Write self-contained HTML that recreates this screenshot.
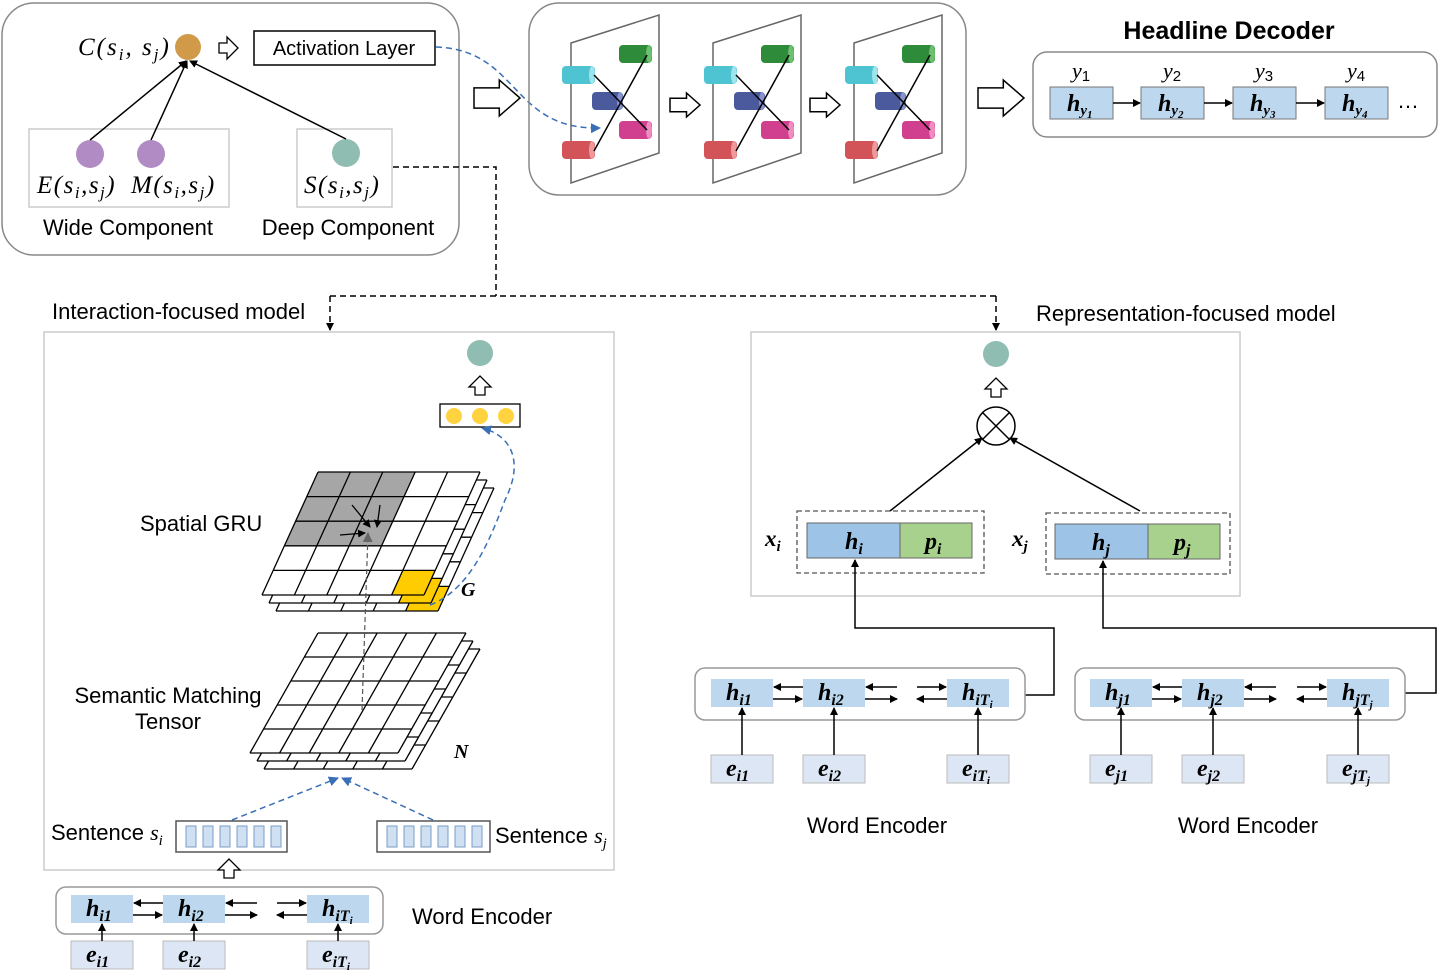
<!DOCTYPE html>
<html><head><meta charset="utf-8"><style>
html,body{margin:0;padding:0;background:#fff}
svg{display:block}
.s{font-family:"Liberation Sans",sans-serif}
.m{font-family:"Liberation Serif",serif;font-style:italic}
</style></head><body>
<svg id="g" width="1440" height="975" viewBox="0 0 1440 975" xmlns="http://www.w3.org/2000/svg">
<defs>
<marker id="a" markerWidth="8" markerHeight="8" refX="7" refY="4" orient="auto" markerUnits="userSpaceOnUse"><path d="M0,0 L8,4 L0,8 z" fill="#000"/></marker>
<marker id="ab" markerWidth="10" markerHeight="10" refX="9" refY="5" orient="auto" markerUnits="userSpaceOnUse"><path d="M0,0 L10,5 L0,10 z" fill="#3a6fb5"/></marker>
<marker id="ag" markerWidth="10" markerHeight="10" refX="9" refY="5" orient="auto" markerUnits="userSpaceOnUse"><path d="M0,0 L10,5 L0,10 z" fill="#666"/></marker>
</defs>

<rect x="2" y="3" width="457" height="252" rx="32" fill="none" stroke="#888" stroke-width="1.5"/>
<text x="78" y="55" class="m" font-size="25" letter-spacing="2">C(s<tspan font-size="17" dy="5">i</tspan><tspan dy="-5">, s</tspan><tspan font-size="17" dy="5">j</tspan><tspan dy="-5">)</tspan></text>
<circle cx="188" cy="47" r="13" fill="#d09a48"/>
<path d="M219,43 h8 v-6 l11,11 l-11,11 v-6 h-8 z" fill="#fff" stroke="#000" stroke-width="1.3"/>
<rect x="254" y="31" width="181" height="34" fill="#fff" stroke="#000" stroke-width="1.5"/>
<text x="344" y="55" class="s" font-size="20" text-anchor="middle">Activation Layer</text>
<rect x="29" y="129" width="200" height="78" fill="none" stroke="#ccc" stroke-width="1.5"/>
<rect x="297" y="129" width="95" height="78" fill="none" stroke="#ccc" stroke-width="1.5"/>
<circle cx="90" cy="154" r="14" fill="#b08bc4"/>
<circle cx="151" cy="154" r="14" fill="#b08bc4"/>
<circle cx="346" cy="153" r="14" fill="#8fbdb2"/>
<line x1="90" y1="140" x2="186" y2="61" stroke="#000" stroke-width="1.5" marker-end="url(#a)"/>
<line x1="151" y1="140" x2="187" y2="61" stroke="#000" stroke-width="1.5" marker-end="url(#a)"/>
<line x1="346" y1="139" x2="190" y2="61" stroke="#000" stroke-width="1.5" marker-end="url(#a)"/>
<text x="37" y="193" class="m" font-size="25" letter-spacing="1.5">E(s<tspan font-size="17" dy="5">i</tspan><tspan dy="-5">,s</tspan><tspan font-size="17" dy="5">j</tspan><tspan dy="-5">)</tspan></text>
<text x="131" y="193" class="m" font-size="25" letter-spacing="1.5">M(s<tspan font-size="17" dy="5">i</tspan><tspan dy="-5">,s</tspan><tspan font-size="17" dy="5">j</tspan><tspan dy="-5">)</tspan></text>
<text x="304" y="193" class="m" font-size="25" letter-spacing="1.5">S(s<tspan font-size="17" dy="5">i</tspan><tspan dy="-5">,s</tspan><tspan font-size="17" dy="5">j</tspan><tspan dy="-5">)</tspan></text>
<text x="128" y="235" class="s" font-size="22" text-anchor="middle">Wide Component</text>
<text x="348" y="235" class="s" font-size="22" text-anchor="middle">Deep Component</text>

<path d="M436,47 C520,50 510,130 600,128" fill="none" stroke="#3a6fb5" stroke-width="1.5" stroke-dasharray="6,4" marker-end="url(#ab)"/>
<path d="M393,167 H496 V296 M330,296 H996" fill="none" stroke="#000" stroke-width="1.5" stroke-dasharray="6,4"/>
<line x1="330" y1="296" x2="330" y2="330" stroke="#000" stroke-width="1.5" stroke-dasharray="6,4" marker-end="url(#a)"/>
<line x1="996" y1="296" x2="996" y2="330" stroke="#000" stroke-width="1.5" stroke-dasharray="6,4" marker-end="url(#a)"/>

<g id="har" fill="#fff" stroke="#000" stroke-width="1.5"></g>

<rect x="529" y="3" width="437" height="192" rx="30" fill="none" stroke="#888" stroke-width="1.5"/>
<g id="panels"></g>

<text x="1229" y="39" class="s" font-size="25" font-weight="bold" text-anchor="middle">Headline Decoder</text>
<rect x="1033" y="52" width="404" height="85" rx="14" fill="none" stroke="#888" stroke-width="1.5"/>
<g id="dec"></g>
<text x="1408" y="108" class="s" font-size="22" text-anchor="middle">…</text>

<text x="52" y="319" class="s" font-size="22">Interaction-focused model</text>
<rect x="44" y="332" width="570" height="538" fill="none" stroke="#ccc" stroke-width="1.5"/>
<circle cx="480" cy="353" r="13" fill="#8fbdb2"/>
<path d="M475,395 v-8 h-6 l11,-11 l11,11 h-6 v8 z" fill="#fff" stroke="#000" stroke-width="1.3"/>
<rect x="440" y="404" width="80" height="23" fill="#fff" stroke="#000" stroke-width="1.3"/>
<circle cx="454" cy="416" r="8" fill="#ffd23f"/><circle cx="480" cy="416" r="8" fill="#ffd23f"/><circle cx="506" cy="416" r="8" fill="#ffd23f"/>
<text x="140" y="531" class="s" font-size="22">Spatial GRU</text>
<text x="168" y="703" class="s" font-size="22" text-anchor="middle">Semantic Matching</text>
<text x="168" y="729" class="s" font-size="22" text-anchor="middle">Tensor</text>
<g id="grids"></g>
<text x="461" y="596" class="m" font-size="20" font-weight="bold">G</text>
<text x="454" y="758" class="m" font-size="20" font-weight="bold">N</text>
<path d="M430,605 C470,590 490,540 505,500 C525,460 510,435 482,428" fill="none" stroke="#3a6fb5" stroke-width="1.5" stroke-dasharray="6,4" marker-end="url(#ab)"/>

<text x="51" y="840" class="s" font-size="22">Sentence <tspan class="m">s</tspan><tspan class="m" font-size="15" dy="5">i</tspan></text>
<rect x="176" y="821" width="111" height="31" fill="#fff" stroke="#555" stroke-width="1.5"/>
<text x="495" y="843" class="s" font-size="22">Sentence <tspan class="m">s</tspan><tspan class="m" font-size="15" dy="5">j</tspan></text>
<rect x="377" y="821" width="113" height="31" fill="#fff" stroke="#555" stroke-width="1.5"/>
<g id="sent"></g>
<line x1="232" y1="820" x2="338" y2="778" stroke="#3a6fb5" stroke-width="1.5" stroke-dasharray="6,4" marker-end="url(#ab)"/>
<line x1="433" y1="820" x2="342" y2="778" stroke="#3a6fb5" stroke-width="1.5" stroke-dasharray="6,4" marker-end="url(#ab)"/>
<path d="M224,878 v-8 h-6 l11,-11 l11,11 h-6 v8 z" fill="#fff" stroke="#000" stroke-width="1.3"/>
<text x="412" y="924" class="s" font-size="22">Word Encoder</text>

<text x="1036" y="321" class="s" font-size="22">Representation-focused model</text>
<rect x="751" y="332" width="489" height="264" fill="none" stroke="#ccc" stroke-width="1.5"/>
<circle cx="996" cy="354" r="13" fill="#8fbdb2"/>
<path d="M991,397 v-8 h-6 l11,-11 l11,11 h-6 v8 z" fill="#fff" stroke="#000" stroke-width="1.3"/>
<circle cx="996" cy="426" r="19" fill="#fff" stroke="#000" stroke-width="1.5"/>
<path d="M983,413 L1009,439 M1009,413 L983,439" stroke="#000" stroke-width="1.5"/>
<line x1="890" y1="511" x2="982" y2="438" stroke="#000" stroke-width="1.5" marker-end="url(#a)"/>
<line x1="1140" y1="511" x2="1010" y2="438" stroke="#000" stroke-width="1.5" marker-end="url(#a)"/>
<rect x="797" y="511" width="187" height="62" fill="none" stroke="#555" stroke-width="1.3" stroke-dasharray="5,3"/>
<rect x="1046" y="513" width="184" height="61" fill="none" stroke="#555" stroke-width="1.3" stroke-dasharray="5,3"/>
<rect x="807" y="523" width="93" height="35" fill="#9dc3e6" stroke="#666"/>
<rect x="900" y="523" width="72" height="35" fill="#a9d18e" stroke="#666"/>
<rect x="1055" y="524" width="93" height="35" fill="#9dc3e6" stroke="#666"/>
<rect x="1148" y="524" width="72" height="35" fill="#a9d18e" stroke="#666"/>
<text x="845" y="549" class="m" font-size="24" font-weight="bold">h<tspan font-size="16" dy="5">i</tspan></text>
<text x="925" y="549" class="m" font-size="24" font-weight="bold">p<tspan font-size="16" dy="5">i</tspan></text>
<text x="1092" y="550" class="m" font-size="24" font-weight="bold">h<tspan font-size="16" dy="5">j</tspan></text>
<text x="1174" y="550" class="m" font-size="24" font-weight="bold">p<tspan font-size="16" dy="5">j</tspan></text>
<text x="765" y="546" class="m" font-size="23" font-weight="bold">x<tspan font-size="15" dy="5">i</tspan></text>
<text x="1012" y="546" class="m" font-size="23" font-weight="bold">x<tspan font-size="15" dy="5">j</tspan></text>
<path d="M1025,695 H1054 V628 H855 V560" fill="none" stroke="#000" stroke-width="1.5" marker-end="url(#a)"/>
<path d="M1405,693 H1436 V628 H1103 V561" fill="none" stroke="#000" stroke-width="1.5" marker-end="url(#a)"/>
<text x="877" y="833" class="s" font-size="22" text-anchor="middle">Word Encoder</text>
<text x="1248" y="833" class="s" font-size="22" text-anchor="middle">Word Encoder</text>
<g id="enc"></g>
</svg>
<script>
var NS="http://www.w3.org/2000/svg";
function ih(id,h){document.getElementById(id).insertAdjacentHTML('beforeend',h);}
function harr(x,y,w,h){var s=h/2, bw=w*0.55, sh=h*0.28;return '<path d="M'+x+','+(y-sh)+' h'+bw+' v'+(-(s-sh))+' l'+(w-bw)+','+s+' l'+(-(w-bw))+','+s+' v'+(-(s-sh))+' h'+(-bw)+' z"/>';}
ih('har',harr(474,98,46,36)+harr(670,105,30,24)+harr(810,105,30,24)+harr(978,98,46,36));
var P='';
[571,713,854].forEach(function(x){
 P+='<polygon points="'+x+',43 '+(x+88)+',15 '+(x+88)+',153 '+x+',183" fill="none" stroke="#666" stroke-width="1.5"/>';
 function cyl(cx,cy,w,c,c2){return '<rect x="'+cx+'" y="'+cy+'" width="'+w+'" height="18" rx="4" fill="'+c+'"/><ellipse cx="'+(cx+w-3)+'" cy="'+(cy+9)+'" rx="3" ry="9" fill="'+c2+'"/>';}
 P+=cyl(x-9,66,33,'#4ec3d2','#9fe3ec')+cyl(x+48,45,33,'#2e8b3a','#6cc070')+cyl(x+21,92,31,'#4b5a9c','#8893cc')+cyl(x+48,121,33,'#d0408f','#f08cc0')+cyl(x-9,141,33,'#d25458','#ee9a9c');
 P+='<line x1="'+(x+23)+'" y1="75" x2="'+(x+76)+'" y2="130" stroke="#000" stroke-width="1.5"/><line x1="'+(x+23)+'" y1="151" x2="'+(x+76)+'" y2="55" stroke="#000" stroke-width="1.5"/>';
});
ih('panels',P);
var D='',xs=[1050,1141,1233,1325],ys=['1','2','3','4'];
xs.forEach(function(x,i){
 D+='<rect x="'+x+'" y="87" width="63" height="32" fill="#bdd7ee" stroke="#777"/>';
 D+='<text x="'+(x+17)+'" y="111" class="m" font-size="24" font-weight="bold">h<tspan font-size="15" dy="4">y</tspan><tspan font-size="11" dy="3">'+ys[i]+'</tspan></text>';
 D+='<text x="'+(x+22)+'" y="78" class="m" font-size="22">y<tspan class="s" font-style="normal" font-size="15" dy="3">'+ys[i]+'</tspan></text>';
 if(i<3)D+='<line x1="'+(x+63)+'" y1="103" x2="'+(xs[i+1]-1)+'" y2="103" stroke="#000" stroke-width="1.5" marker-end="url(#a)"/>';
});
ih('dec',D);
function lerp(a,b,t){return [a[0]+(b[0]-a[0])*t,a[1]+(b[1]-a[1])*t];}
function pt(TL,TR,BL,BR,u,v){var t=lerp(TL,TR,u),b=lerp(BL,BR,u);return lerp(t,b,v);}
function grid(TL,TR,BL,BR,fills){
 var s='',n=5;
 s+='<polygon points="'+[TL,TR,BR,BL].map(p=>p.join(',')).join(' ')+'" fill="#fff"/>';
 for(var r=0;r<n;r++)for(var c=0;c<n;c++){var f=fills&&fills(r,c);if(f){var a=pt(TL,TR,BL,BR,c/n,r/n),b=pt(TL,TR,BL,BR,(c+1)/n,r/n),d=pt(TL,TR,BL,BR,(c+1)/n,(r+1)/n),e=pt(TL,TR,BL,BR,c/n,(r+1)/n);s+='<polygon points="'+[a,b,d,e].map(p=>p.join(',')).join(' ')+'" fill="'+f+'"/>';}}
 for(var i=0;i<=n;i++){var a=pt(TL,TR,BL,BR,i/n,0),b=pt(TL,TR,BL,BR,i/n,1);s+='<line x1="'+a[0]+'" y1="'+a[1]+'" x2="'+b[0]+'" y2="'+b[1]+'" stroke="#000" stroke-width="1.3"/>';
  a=pt(TL,TR,BL,BR,0,i/n);b=pt(TL,TR,BL,BR,1,i/n);s+='<line x1="'+a[0]+'" y1="'+a[1]+'" x2="'+b[0]+'" y2="'+b[1]+'" stroke="#000" stroke-width="1.3"/>';}
 return s;
}
function stack(x0,x1,yt,yb,sk,fills,backfill){
 var s='';
 for(var k=2;k>=0;k--){var dx=k*7,dy=k*8;
  s+=grid([x0+dx,yt+dy],[x1+dx,yt+dy],[x0-sk+dx,yb+dy],[x1-sk+dx,yb+dy],k==0?fills:backfill);}
 return s;
}
var G='';
G+=stack(318,480,472,595,56,function(r,c){if(r<3&&c<3)return '#a6a6a6';if(r==4&&c==4)return '#ffcc00';},function(r,c){if(r==4&&c==4)return '#ffcc00';});
G+=stack(318,466,633,753,68,null,null);
G+='<line x1="362" y1="710" x2="368" y2="533" stroke="#555" stroke-width="1.2" stroke-dasharray="5,3" marker-end="url(#ag)"/>';
G+='<line x1="352" y1="505" x2="370" y2="527" stroke="#000" stroke-width="1.3" marker-end="url(#a)"/>';
G+='<line x1="380" y1="505" x2="377" y2="527" stroke="#000" stroke-width="1.3" marker-end="url(#a)"/>';
G+='<line x1="340" y1="535" x2="365" y2="533" stroke="#000" stroke-width="1.3" marker-end="url(#a)"/>';
ih('grids',G);
var S='';
[181,382].forEach(function(x){for(var i=0;i<6;i++)S+='<rect x="'+(x+5+i*17)+'" y="826" width="10" height="21" fill="#cfe0f3" stroke="#7a9cc6"/>';});
ih('sent',S);
function enc(bx,by,bw,bh,hx,hy,ey,L){
 var s='<rect x="'+bx+'" y="'+by+'" width="'+bw+'" height="'+bh+'" rx="10" fill="none" stroke="#999" stroke-width="1.5"/>';
 var subs=[L+'1',L+'2',L+'T'];
 hx.forEach(function(x,i){
  s+='<rect x="'+x+'" y="'+hy+'" width="62" height="28" fill="#bdd7ee"/>';
  s+='<rect x="'+x+'" y="'+ey+'" width="62" height="28" fill="#dce6f5" stroke="#bbb"/>';
  var sub=i<2?'<tspan font-size="16" dy="5">'+subs[i]+'</tspan>':'<tspan font-size="16" dy="5">'+L+'T</tspan><tspan font-size="11" dy="3">'+L+'</tspan>';
  s+='<text x="'+(x+15)+'" y="'+(hy+21)+'" class="m" font-size="24" font-weight="bold">h'+sub+'</text>';
  s+='<text x="'+(x+15)+'" y="'+(ey+21)+'" class="m" font-size="24" font-weight="bold">e'+sub+'</text>';
  s+='<line x1="'+(x+31)+'" y1="'+ey+'" x2="'+(x+31)+'" y2="'+(hy+29)+'" stroke="#000" stroke-width="1.5" marker-end="url(#a)"/>';
 });
 function ar(x1,x2,y){return '<line x1="'+x1+'" y1="'+y+'" x2="'+x2+'" y2="'+y+'" stroke="#000" stroke-width="1.5" marker-end="url(#a)"/>';}
 var a=hx[0]+62,b=hx[1],c=hx[1]+62,d=hx[2];
 s+=ar(b,a+1,hy+8)+ar(a,b-1,hy+20)+ar(c+32,c+1,hy+8)+ar(c,c+32,hy+20)+ar(d-30,d-1,hy+8)+ar(d,d-30,hy+20);
 return s;
}
ih('enc',enc(56,887,327,47,[71,163,307],895,941,'i')+enc(695,668,330,52,[711,803,947],679,755,'i')+enc(1075,668,330,52,[1090,1182,1327],679,755,'j'));
</script>
</body></html>
